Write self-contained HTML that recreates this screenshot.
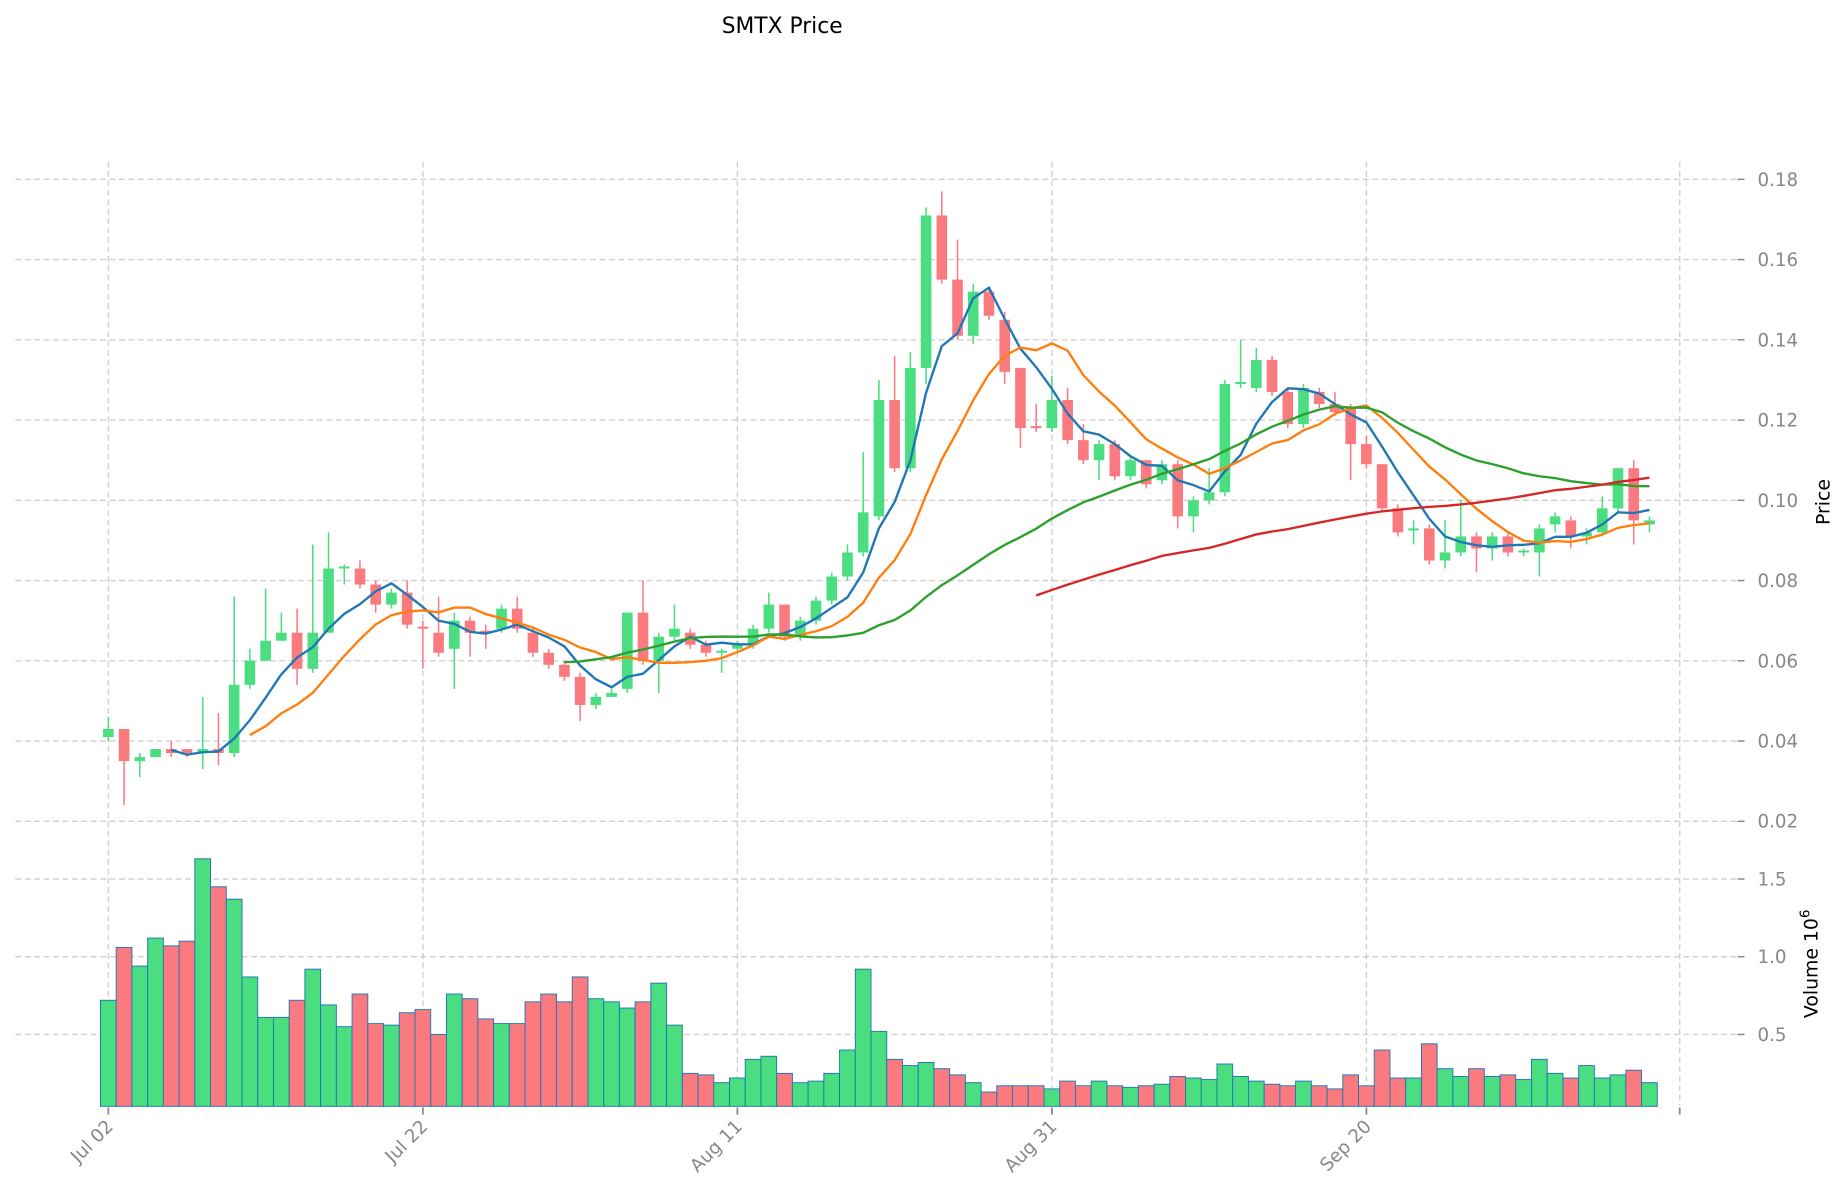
<!DOCTYPE html>
<html><head><meta charset="utf-8"><style>html,body{margin:0;padding:0;background:#fff}svg{display:block}</style></head>
<body>
<svg id="c" width="1847" height="1202" viewBox="0 0 1568 1020" xmlns="http://www.w3.org/2000/svg" font-family="'DejaVu Sans','Liberation Sans',sans-serif"></svg>
<script>
const D=[[0.041,0.043,0.046,0.040],[0.043,0.035,0.043,0.024],[0.035,0.036,0.037,0.031],[0.036,0.038,0.038,0.036],[0.038,0.037,0.040,0.036],[0.038,0.037,0.038,0.036],[0.037,0.038,0.051,0.033],[0.038,0.037,0.047,0.034],[0.037,0.054,0.076,0.036],[0.054,0.060,0.063,0.053],[0.060,0.065,0.078,0.060],[0.065,0.067,0.072,0.065],[0.067,0.058,0.073,0.054],[0.058,0.067,0.089,0.057],[0.067,0.083,0.092,0.067],[0.083,0.0835,0.084,0.079],[0.083,0.079,0.085,0.078],[0.079,0.074,0.080,0.072],[0.074,0.077,0.078,0.073],[0.077,0.069,0.080,0.068],[0.0685,0.068,0.070,0.058],[0.067,0.062,0.076,0.061],[0.063,0.070,0.072,0.053],[0.070,0.067,0.071,0.061],[0.0675,0.067,0.069,0.063],[0.068,0.073,0.074,0.067],[0.073,0.068,0.076,0.067],[0.067,0.062,0.068,0.061],[0.062,0.059,0.063,0.058],[0.059,0.056,0.060,0.055],[0.056,0.049,0.057,0.045],[0.049,0.051,0.052,0.048],[0.051,0.052,0.053,0.051],[0.053,0.072,0.072,0.052],[0.072,0.060,0.080,0.059],[0.060,0.066,0.067,0.052],[0.066,0.068,0.074,0.065],[0.067,0.064,0.068,0.063],[0.064,0.062,0.065,0.061],[0.062,0.0625,0.063,0.057],[0.063,0.064,0.065,0.062],[0.064,0.068,0.069,0.063],[0.068,0.074,0.077,0.067],[0.074,0.066,0.074,0.065],[0.066,0.070,0.071,0.065],[0.070,0.075,0.076,0.069],[0.075,0.081,0.082,0.074],[0.081,0.087,0.089,0.080],[0.087,0.097,0.112,0.086],[0.096,0.125,0.130,0.095],[0.125,0.108,0.136,0.107],[0.108,0.133,0.137,0.107],[0.133,0.171,0.173,0.129],[0.171,0.155,0.177,0.154],[0.155,0.141,0.165,0.140],[0.141,0.152,0.154,0.139],[0.152,0.146,0.153,0.145],[0.145,0.132,0.147,0.129],[0.133,0.118,0.133,0.113],[0.1185,0.118,0.124,0.117],[0.118,0.125,0.131,0.117],[0.125,0.115,0.128,0.114],[0.115,0.110,0.119,0.109],[0.110,0.114,0.115,0.105],[0.114,0.106,0.115,0.105],[0.106,0.110,0.111,0.105],[0.110,0.104,0.110,0.103],[0.105,0.109,0.110,0.104],[0.109,0.096,0.110,0.093],[0.096,0.100,0.101,0.092],[0.100,0.102,0.108,0.099],[0.102,0.129,0.130,0.101],[0.129,0.1295,0.140,0.128],[0.128,0.135,0.138,0.127],[0.135,0.127,0.136,0.126],[0.127,0.119,0.128,0.118],[0.119,0.128,0.129,0.118],[0.127,0.124,0.128,0.123],[0.124,0.122,0.127,0.121],[0.123,0.114,0.124,0.105],[0.114,0.109,0.116,0.108],[0.109,0.098,0.109,0.097],[0.098,0.092,0.099,0.091],[0.0925,0.093,0.095,0.089],[0.093,0.085,0.094,0.084],[0.085,0.087,0.095,0.083],[0.087,0.091,0.100,0.086],[0.091,0.088,0.092,0.082],[0.088,0.091,0.092,0.085],[0.091,0.087,0.092,0.086],[0.087,0.0875,0.088,0.086],[0.087,0.093,0.094,0.081],[0.094,0.096,0.097,0.092],[0.095,0.091,0.096,0.088],[0.091,0.092,0.093,0.089],[0.092,0.098,0.101,0.091],[0.098,0.108,0.108,0.097],[0.108,0.095,0.110,0.089],[0.094,0.095,0.096,0.092]];
const V=[0.72,1.06,0.94,1.12,1.07,1.10,1.63,1.45,1.37,0.87,0.61,0.61,0.72,0.92,0.69,0.55,0.76,0.57,0.56,0.64,0.66,0.50,0.76,0.73,0.60,0.57,0.57,0.71,0.76,0.71,0.87,0.73,0.71,0.67,0.71,0.83,0.56,0.25,0.24,0.19,0.22,0.34,0.36,0.25,0.19,0.20,0.25,0.40,0.92,0.52,0.34,0.30,0.32,0.28,0.24,0.19,0.13,0.17,0.17,0.17,0.15,0.20,0.17,0.20,0.17,0.16,0.17,0.18,0.23,0.22,0.21,0.31,0.23,0.20,0.18,0.17,0.20,0.17,0.15,0.24,0.17,0.40,0.22,0.22,0.44,0.28,0.23,0.28,0.23,0.24,0.21,0.34,0.25,0.22,0.30,0.22,0.24,0.27,0.19];
const X=i=>92+13.35*i, Y=p=>697-(p-0.02)*3406, VY=v=>944-132*v;
const G='#4ade80',R='#fb7a80',GR='#888';
let s='';
for(const t of [92,359,626,893,1160,1426]) s+=`<line x1="${t}" y1="137" x2="${t}" y2="938" stroke="#d0d0d0" stroke-width="1.2" stroke-dasharray="5,3"/>`;
for(let k=0;k<9;k++){const p=0.02+0.02*k,y=Y(p);s+=`<line x1="13" y1="${y}" x2="1480" y2="${y}" stroke="#d0d0d0" stroke-width="1.2" stroke-dasharray="5,3"/><line x1="1475" y1="${y}" x2="1481" y2="${y}" stroke="${GR}" stroke-width="1.2"/><text x="1492" y="${y+5.5}" font-size="15.5" fill="${GR}">${p.toFixed(2)}</text>`;}
for(const v of [0.5,1.0,1.5]){const y=VY(v);s+=`<line x1="13" y1="${y}" x2="1480" y2="${y}" stroke="#d0d0d0" stroke-width="1.2" stroke-dasharray="5,3"/><line x1="1475" y1="${y}" x2="1481" y2="${y}" stroke="${GR}" stroke-width="1.2"/><text x="1492" y="${y+5.5}" font-size="15.5" fill="${GR}">${v.toFixed(1)}</text>`;}
V.forEach((v,i)=>{const c=D[i][1]>=D[i][0]?G:R;s+=`<rect x="${X(i)-6.7}" y="${VY(v)}" width="13.35" height="${939-VY(v)}" fill="${c}" stroke="#1f77b4" stroke-width="0.8"/>`;});
D.forEach((d,i)=>{const [o,c,h,l]=d,col=c>=o?G:R,x=X(i);const t=Y(Math.max(o,c)),b=Y(Math.min(o,c));s+=`<line x1="${x}" y1="${Y(h)}" x2="${x}" y2="${Y(l)}" stroke="${col}" stroke-width="1.3"/><rect x="${x-4.5}" y="${t}" width="9" height="${Math.max(b-t,1.2)}" fill="${col}"/>`;});
const C=D.map(d=>d[1]);
[[5,'#1f77b4'],[10,'#ff7f0e'],[30,'#2ca02c'],[60,'#d62728']].forEach(([w,col])=>{let pts=[];for(let i=w-1;i<C.length;i++){let a=0;for(let j=i-w+1;j<=i;j++)a+=C[j];pts.push(X(i).toFixed(1)+','+Y(a/w).toFixed(1));}s+=`<polyline points="${pts.join(' ')}" fill="none" stroke="${col}" stroke-width="2"/>`;});
[['Jul 02',92],['Jul 22',359],['Aug 11',626],['Aug 31',893],['Sep 20',1160]].forEach(([t,x])=>{s+=`<line x1="${x}" y1="940" x2="${x}" y2="946" stroke="${GR}" stroke-width="1.5"/><text transform="translate(${x+5},957) rotate(-45)" text-anchor="end" font-size="15.5" fill="${GR}">${t}</text>`;});
s+=`<line x1="1426" y1="940" x2="1426" y2="946" stroke="${GR}" stroke-width="1.5"/>`;
s+=`<text x="664" y="28" text-anchor="middle" font-size="18.5" fill="#000">SMTX Price</text>`;
s+=`<text transform="translate(1553,426) rotate(-90)" text-anchor="middle" font-size="16" fill="#000">Price</text>`;
s+=`<text transform="translate(1543,818) rotate(-90)" text-anchor="middle" font-size="16" fill="#000">Volume  10<tspan dy="-7" font-size="11.5">6</tspan></text>`;
document.getElementById('c').innerHTML=s;
</script>
</body></html>
